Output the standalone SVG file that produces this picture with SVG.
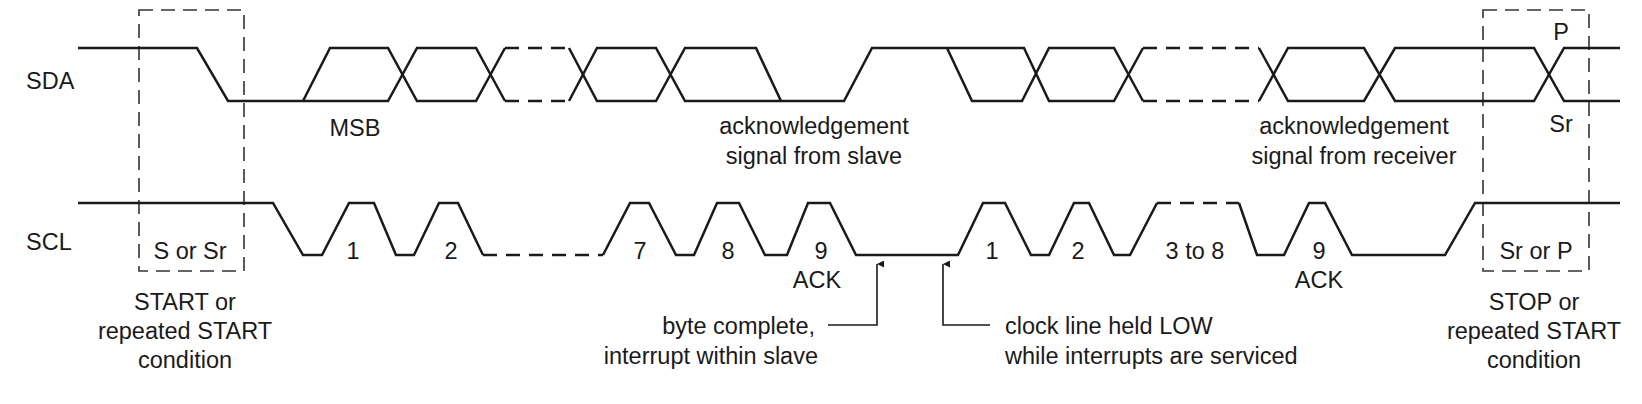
<svg xmlns="http://www.w3.org/2000/svg" width="1642" height="404" viewBox="0 0 1642 404">
<style>
.s{fill:none;stroke:#1a1a1a;stroke-width:2.5;stroke-linejoin:miter}
.d{fill:none;stroke:#1a1a1a;stroke-width:2.5;stroke-dasharray:14 9}
.b{fill:none;stroke:#333;stroke-width:1.6;stroke-dasharray:14 8}
.c{fill:none;stroke:#1a1a1a;stroke-width:1.6}
text{font-family:"Liberation Sans",Arial,sans-serif;font-size:23.5px;fill:#1a1a1a}
.m{text-anchor:middle}.e{text-anchor:end}
</style>
<defs><marker id="ah" viewBox="0 0 10 10" refX="5" refY="0" markerWidth="7" markerHeight="10" orient="auto-start-reverse" markerUnits="userSpaceOnUse"><path d="M0,10 L5,0 L10,10 Z" fill="#1a1a1a"/></marker></defs>
<g id="labels">
<text x="26" y="89">SDA</text>
<text x="26" y="250">SCL</text>
</g>
<g id="boxes">
<rect class="b" x="139" y="10" width="105" height="261"/>
<rect class="b" x="1483" y="10" width="106" height="261"/>
</g>
<g id="sda">
<path class="s" d="M78,48 H197 L228,101 H388 L417,48 H476 L505,101"/>
<path class="s" d="M303,101 L330,48 H388 L417,101 H476 L505,48"/>
<path class="d" d="M505,48 H569 M505,101 H569"/>
<path class="s" d="M569,48 L597,101 H656 L685,48 H756 L781,101"/>
<path class="s" d="M569,101 L597,48 H656 L685,101 H844 L872,48 H1024 L1049,101 H1114 L1143,48"/>
<path class="s" d="M947,48 L972,101 H1022 L1049,48 H1114 L1143,101"/>
<path class="d" d="M1143,48 H1259 M1143,101 H1259"/>
<path class="s" d="M1259,48 L1288,101 H1364 L1395,48 H1534 L1564,101 H1620"/>
<path class="s" d="M1259,101 L1288,48 H1364 L1395,101 H1534 L1564,48 H1620"/>
</g>
<g id="scl">
<path class="s" d="M78,203 H273 L303,255 H322 L349,203 H374 L396,255 H414 L439,203 H458 L483,255"/>
<path class="d" d="M483,255 H603"/>
<path class="s" d="M603,255 L630,203 H649 L676,255 H694 L717,203 H739 L765,255 H787 L808,203 H830 L856,255 H958 L983,203 H1005 L1031,255 H1049 L1074,203 H1089 L1114,255 H1130 L1157,203"/>
<path class="d" d="M1157,203 H1239"/>
<path class="s" d="M1239,203 L1257,255 H1284 L1309,203 H1325 L1352,255 H1445 L1475,203 H1620"/>
</g>
<g id="connectors">
<path class="c" d="M828,325 H877 V264" marker-end="url(#ah)"/>
<path class="c" d="M990,325 H943 V264" marker-end="url(#ah)"/>
</g>
<g id="texts">
<text class="m" x="355" y="136">MSB</text>
<text class="m" x="814" y="134">acknowledgement</text>
<text class="m" x="814" y="164">signal from slave</text>
<text class="m" x="1354" y="134">acknowledgement</text>
<text class="m" x="1354" y="164">signal from receiver</text>
<text class="m" x="1561" y="40">P</text>
<text class="m" x="1561" y="132">Sr</text>
<text class="m" x="190" y="259">S or Sr</text>
<text class="m" x="353" y="259">1</text>
<text class="m" x="451" y="259">2</text>
<text class="m" x="640" y="259">7</text>
<text class="m" x="728" y="259">8</text>
<text class="m" x="821" y="259">9</text>
<text class="m" x="992" y="259">1</text>
<text class="m" x="1078" y="259">2</text>
<text class="m" x="1195" y="259">3 to 8</text>
<text class="m" x="1319" y="259">9</text>
<text class="m" x="1536" y="259">Sr or P</text>
<text class="m" x="817" y="288">ACK</text>
<text class="m" x="1319" y="288">ACK</text>
<text class="m" x="185" y="310">START or</text>
<text class="m" x="185" y="339">repeated START</text>
<text class="m" x="185" y="368">condition</text>
<text class="m" x="1534" y="310">STOP or</text>
<text class="m" x="1534" y="339">repeated START</text>
<text class="m" x="1534" y="368">condition</text>
<text class="e" x="815" y="334">byte complete,</text>
<text class="e" x="818" y="364">interrupt within slave</text>
<text x="1005" y="334">clock line held LOW</text>
<text x="1005" y="364">while interrupts are serviced</text>
</g>
</svg>
